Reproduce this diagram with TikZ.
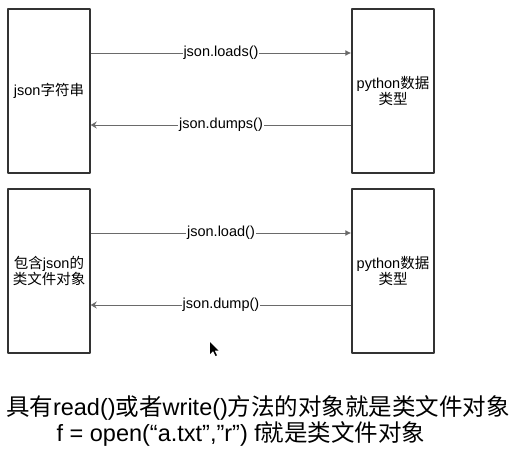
\documentclass[tikz,border=0pt]{standalone}
\usepackage{fontspec}
\setmainfont{Liberation Sans}
\newfontfamily\cjk{Noto Sans CJK SC}
\usepackage{xcolor}
\usepackage{tikz}
\usetikzlibrary{arrows.meta,calc}

\definecolor{boxline}{HTML}{333333}
\definecolor{arrline}{HTML}{6A6A6A}

\tikzset{
  panelbox/.style={draw=boxline,line width=1.4pt,minimum width=82pt,minimum height=164pt,
    inner sep=0pt,align=center,font=\fontsize{14.5}{17}\selectfont},
  flowline/.style={draw=arrline,line width=1pt},
  flowlabel/.style={fill=white,inner sep=1pt,font=\fontsize{14.5}{17}\selectfont},
  bigtext/.style={inner sep=0pt,font=\fontsize{23.5}{27}\selectfont}
}

\begin{document}
\begin{tikzpicture}[x=1pt,y=-1pt,line join=round]
  \useasboundingbox (0,0) rectangle (522,455);
  \coordinate (R1) at (0,53);
  \coordinate (R2) at (0,125);
  \coordinate (R3) at (0,233);
  \coordinate (R4) at (0,305);
  % upper panel
  \node[panelbox] (jsonstr) at (49,91) {json{\cjk 字符串}};
  \node[panelbox] (pytypeA) at (393,91) {python{\cjk 数据}\\[-1pt]{\cjk 类型}};
  \draw[flowline,-{Latex[length=6pt,width=6pt]}] (jsonstr.east |- R1) -- (pytypeA.west |- R1)
    node[flowlabel,pos=0.5] (loads) {json.loads()};
  \draw[flowline,-{Stealth[length=6pt,width=7pt]}] (pytypeA.west |- R2) -- (jsonstr.east |- R2)
    node[flowlabel,pos=0.5] (dumps) {json.dumps()};
  % lower panel
  \node[panelbox] (fileobj) at (49,271) {{\cjk 包含}json{\cjk 的}\\[-1pt]{\cjk 类文件对象}};
  \node[panelbox] (pytypeB) at (393,271) {python{\cjk 数据}\\[-1pt]{\cjk 类型}};
  \draw[flowline,-{Latex[length=6pt,width=6pt]}] (fileobj.east |- R3) -- (pytypeB.west |- R3)
    node[flowlabel,pos=0.5] (load) {json.load()};
  \draw[flowline,-{Stealth[length=6pt,width=7pt]}] (pytypeB.west |- R4) -- (fileobj.east |- R4)
    node[flowlabel,pos=0.5] (dump) {json.dump()};
  % mouse pointer
  \fill[black] (210,342) -- (210,354) -- (213,351) -- (215.5,356) -- (217,355.3) -- (214.6,350.5) -- (218.5,350.5) -- cycle;
  % notes
  \node[bigtext] (note1) at (258,408) {{\cjk 具有}read(){\cjk 或者}write(){\cjk 方法的对象就是类文件对象}};
  \node[bigtext] (note2) at (241,434) {f = open(“a.txt”,”r”) f{\cjk 就是类文件对象}};
\end{tikzpicture}
\end{document}
